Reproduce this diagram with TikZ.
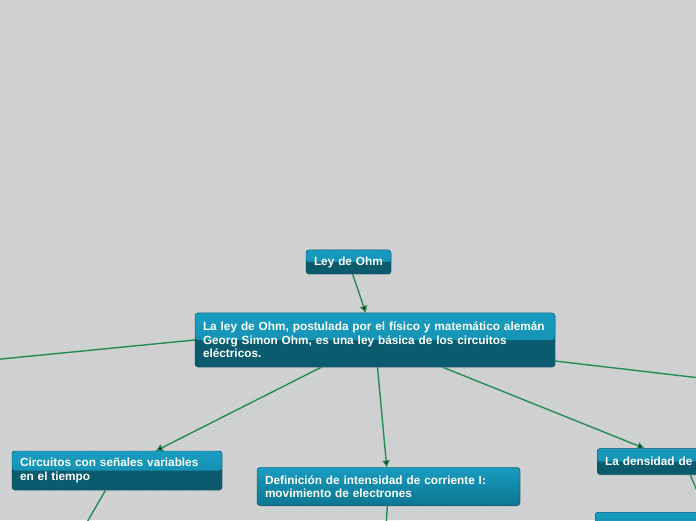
\documentclass[tikz,border=0pt]{standalone}
\usepackage{fontspec}
\setmainfont{Liberation Sans}
\usetikzlibrary{positioning, arrows.meta, shadows}

\definecolor{bgray}{HTML}{D0D1D3}
\definecolor{stripe}{HTML}{CACBCD}
\definecolor{boxtop}{HTML}{189CC0}
\definecolor{boxmid}{HTML}{1289AA}
\definecolor{boxlow}{HTML}{0B5B6F}
\definecolor{boxsoft}{HTML}{0D7691}
\definecolor{boxline}{HTML}{0A4F60}
\definecolor{linkgreen}{HTML}{268C52}

\tikzset{
  topic/.style={rectangle, rounded corners=3pt, draw=boxline, line width=0.4pt,
    fill=boxlow, text=white, font=\bfseries\fontsize{11.8}{13.4}\selectfont,
    align=left, inner xsep=8pt, inner ysep=3pt,
    drop shadow={opacity=0.25, shadow xshift=0.6pt, shadow yshift=-1pt},
    path picture={\fill[top color=boxtop, bottom color=boxmid]
      (path picture bounding box.north west) rectangle (path picture bounding box.east);}},
  topicsoft/.style={topic, path picture={}, top color=boxtop, bottom color=boxsoft},
  link/.style={draw=linkgreen, line width=1.4pt},
}

\begin{document}
\begin{tikzpicture}[x=1pt,y=1pt,>={Triangle[length=7pt,width=7pt]}]
  \useasboundingbox (0,0) rectangle (696,520);
  \fill[bgray] (0,0) rectangle (696,520);
  % faint diagonal stripes
  \begin{scope}
    \clip (0,0) rectangle (696,520);
    \foreach \s in {-520,-507,...,696}
      \draw[stripe, line width=0.4pt] (\s,0) -- ++(520,520);
  \end{scope}

  \node[topic, text width=69pt, minimum height=24pt] (ley) at (348.5,258) {\mbox{Ley de Ohm}};
  \node[topic, text width=344pt, minimum height=54pt] (main) at (375,180)
    {\mbox{La ley de Ohm, postulada por el físico y matemático alemán}\\
     \mbox{Georg Simon Ohm, es una ley básica de los circuitos}\\
     eléctricos.};
  \node[topic, text width=194pt, minimum height=39pt] (circ) at (117,49.5)
    {\mbox{Circuitos con señales variables}\\ en el tiempo};
  \node[topicsoft, text width=247pt, minimum height=38pt] (def) at (388.5,33.5)
    {\mbox{Definición de intensidad de corriente I:}\\ movimiento de electrones};
  \node[topic, text width=144pt, minimum height=26pt, anchor=west] (dens) at (597,58.5)
    {La densidad de};
  \node[topic, text width=144pt, minimum height=30pt, anchor=north west] (low) at (595,8) {};

  % branches leaving the picture
  \coordinate (farleft) at (-60,155);
  \coordinate (farright) at (760,135);
  \coordinate (circdown) at (65,-40);
  \coordinate (defdown) at (384,-40);
  \coordinate (densdown) at (718,-20);

  \path[->, link]
    (ley) edge (main)
    (main) edge (farright)
    (main) edge (circ)
    (main) edge (def)
    (main) edge (dens)
    (circ) edge (circdown)
    (def) edge (defdown);
  \draw[->, link] (main.west) -- (farleft);
  \draw[->, link] ([xshift=13pt]dens.south) -- (densdown);
\end{tikzpicture}
\end{document}
